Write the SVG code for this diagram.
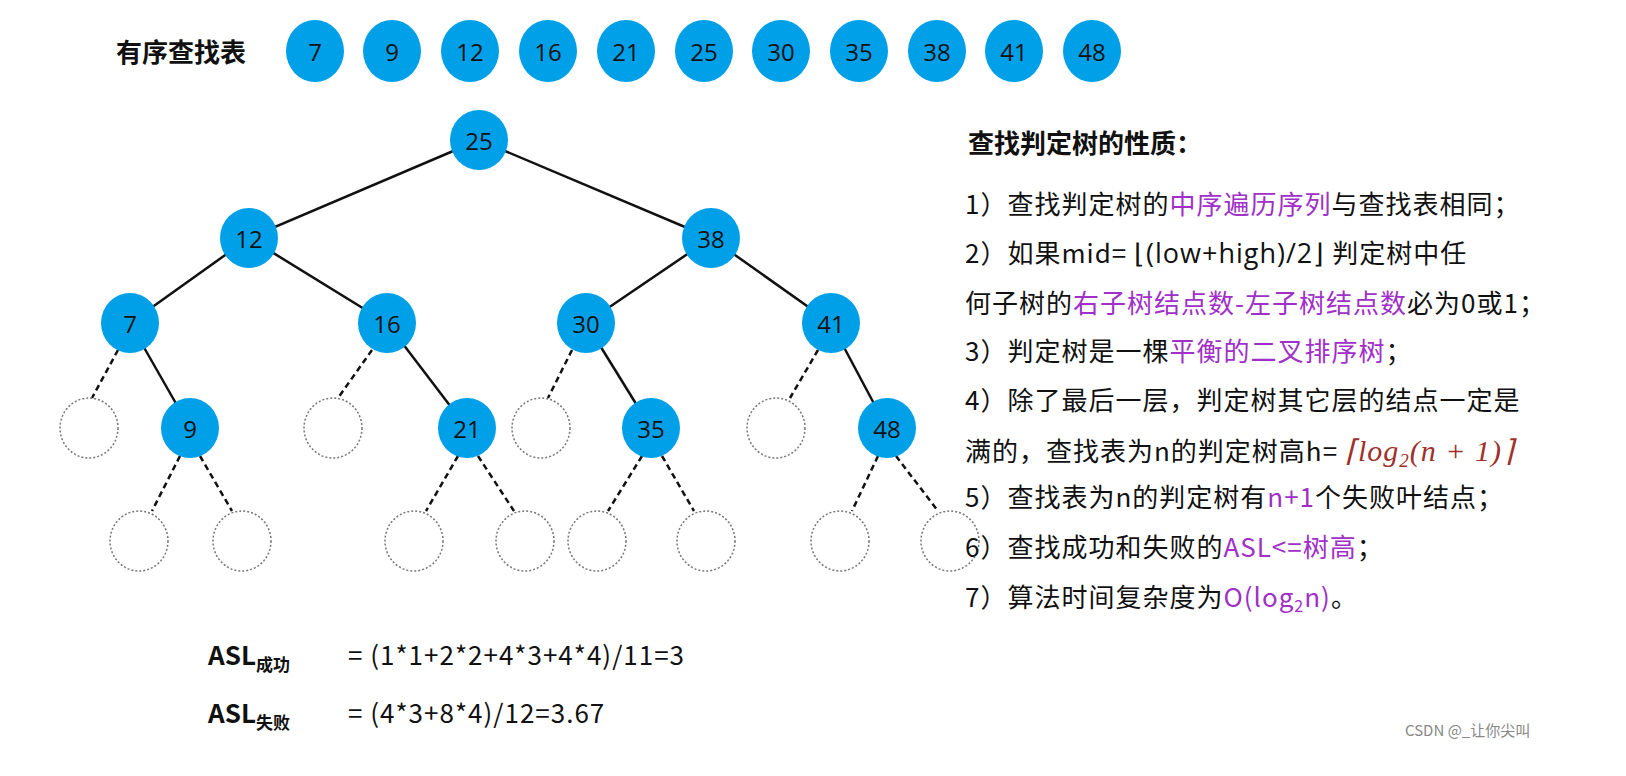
<svg xmlns="http://www.w3.org/2000/svg" width="1626" height="776" viewBox="0 0 1626 776">
<style>
.n{fill:#00a0e9}
.e{fill:none;stroke:#777;stroke-width:1.5;stroke-dasharray:2 2}
.t{font-family:"Open Sans","Noto Sans CJK SC",sans-serif;font-size:24px;fill:#111;text-anchor:middle;dominant-baseline:central}
.s{stroke:#111;stroke-width:2.5}
.d{stroke:#111;stroke-width:2.5;stroke-dasharray:6 4}
.p{font-family:"Noto Sans CJK SC",sans-serif;font-size:26px;letter-spacing:1px;fill:#111}
.m{fill:#a030c8}
.b{font-family:"Noto Sans CJK SC",sans-serif;font-weight:bold;fill:#111}
</style>
<rect width="1626" height="776" fill="#fff"/>
<text class="b" x="116" y="62" font-size="26">有序查找表</text>
<g id="table">
<g id="a7"><ellipse class="n" cx="315" cy="51" rx="29" ry="31"/><text class="t" x="315" y="51">7</text></g>
<g id="a9"><ellipse class="n" cx="392" cy="51" rx="29" ry="31"/><text class="t" x="392" y="51">9</text></g>
<g id="a12"><ellipse class="n" cx="470" cy="51" rx="29" ry="31"/><text class="t" x="470" y="51">12</text></g>
<g id="a16"><ellipse class="n" cx="548" cy="51" rx="29" ry="31"/><text class="t" x="548" y="51">16</text></g>
<g id="a21"><ellipse class="n" cx="626" cy="51" rx="29" ry="31"/><text class="t" x="626" y="51">21</text></g>
<g id="a25"><ellipse class="n" cx="704" cy="51" rx="29" ry="31"/><text class="t" x="704" y="51">25</text></g>
<g id="a30"><ellipse class="n" cx="781" cy="51" rx="29" ry="31"/><text class="t" x="781" y="51">30</text></g>
<g id="a35"><ellipse class="n" cx="859" cy="51" rx="29" ry="31"/><text class="t" x="859" y="51">35</text></g>
<g id="a38"><ellipse class="n" cx="937" cy="51" rx="29" ry="31"/><text class="t" x="937" y="51">38</text></g>
<g id="a41"><ellipse class="n" cx="1014" cy="51" rx="29" ry="31"/><text class="t" x="1014" y="51">41</text></g>
<g id="a48"><ellipse class="n" cx="1092" cy="51" rx="29" ry="31"/><text class="t" x="1092" y="51">48</text></g>
</g>
<g id="connectors">
<line class="s" x1="479" y1="140" x2="249" y2="238"/>
<line class="s" x1="479" y1="140" x2="711" y2="238"/>
<line class="s" x1="249" y1="238" x2="130" y2="323"/>
<line class="s" x1="249" y1="238" x2="387" y2="323"/>
<line class="s" x1="711" y1="238" x2="586" y2="323"/>
<line class="s" x1="711" y1="238" x2="831" y2="323"/>
<line class="s" x1="130" y1="323" x2="190" y2="428"/>
<line class="s" x1="387" y1="323" x2="467" y2="428"/>
<line class="s" x1="586" y1="323" x2="651" y2="428"/>
<line class="s" x1="831" y1="323" x2="887" y2="428"/>
<line class="d" x1="118" y1="350" x2="92" y2="398"/>
<line class="d" x1="372" y1="350" x2="338" y2="398"/>
<line class="d" x1="572" y1="350" x2="548" y2="398"/>
<line class="d" x1="818" y1="350" x2="790" y2="398"/>
<line class="d" x1="180" y1="456" x2="152" y2="511"/>
<line class="d" x1="200" y1="456" x2="232" y2="511"/>
<line class="d" x1="458" y1="456" x2="426" y2="511"/>
<line class="d" x1="478" y1="456" x2="514" y2="511"/>
<line class="d" x1="642" y1="456" x2="608" y2="511"/>
<line class="d" x1="662" y1="456" x2="694" y2="511"/>
<line class="d" x1="878" y1="456" x2="852" y2="511"/>
<line class="d" x1="896" y1="456" x2="938" y2="511"/>
</g>
<g id="tree">
<g id="n25"><ellipse class="n" cx="479" cy="140" rx="29" ry="30"/><text class="t" x="479" y="140">25</text></g>
<g id="n12"><ellipse class="n" cx="249" cy="238" rx="29" ry="30"/><text class="t" x="249" y="238">12</text></g>
<g id="n38"><ellipse class="n" cx="711" cy="238" rx="29" ry="30"/><text class="t" x="711" y="238">38</text></g>
<g id="n7"><ellipse class="n" cx="130" cy="323" rx="29" ry="30"/><text class="t" x="130" y="323">7</text></g>
<g id="n16"><ellipse class="n" cx="387" cy="323" rx="29" ry="30"/><text class="t" x="387" y="323">16</text></g>
<g id="n30"><ellipse class="n" cx="586" cy="323" rx="29" ry="30"/><text class="t" x="586" y="323">30</text></g>
<g id="n41"><ellipse class="n" cx="831" cy="323" rx="29" ry="30"/><text class="t" x="831" y="323">41</text></g>
<g id="n9"><ellipse class="n" cx="190" cy="428" rx="29" ry="30"/><text class="t" x="190" y="428">9</text></g>
<g id="n21"><ellipse class="n" cx="467" cy="428" rx="29" ry="30"/><text class="t" x="467" y="428">21</text></g>
<g id="n35"><ellipse class="n" cx="651" cy="428" rx="29" ry="30"/><text class="t" x="651" y="428">35</text></g>
<g id="n48"><ellipse class="n" cx="887" cy="428" rx="29" ry="30"/><text class="t" x="887" y="428">48</text></g>
<g id="f1"><ellipse class="e" cx="89" cy="428" rx="29" ry="30"/></g>
<g id="f2"><ellipse class="e" cx="333" cy="428" rx="29" ry="30"/></g>
<g id="f3"><ellipse class="e" cx="541" cy="428" rx="29" ry="30"/></g>
<g id="f4"><ellipse class="e" cx="776" cy="428" rx="29" ry="30"/></g>
<g id="f5"><ellipse class="e" cx="139" cy="541" rx="29" ry="30"/></g>
<g id="f6"><ellipse class="e" cx="242" cy="541" rx="29" ry="30"/></g>
<g id="f7"><ellipse class="e" cx="414" cy="541" rx="29" ry="30"/></g>
<g id="f8"><ellipse class="e" cx="525" cy="541" rx="29" ry="30"/></g>
<g id="f9"><ellipse class="e" cx="597" cy="541" rx="29" ry="30"/></g>
<g id="f10"><ellipse class="e" cx="706" cy="541" rx="29" ry="30"/></g>
<g id="f11"><ellipse class="e" cx="840" cy="541" rx="29" ry="30"/></g>
<g id="f12"><ellipse class="e" cx="950" cy="541" rx="29" ry="30"/></g>
</g>
<g id="props">
<text class="b" x="968" y="153" font-size="26">查找判定树的性质：</text>
<text class="p" x="965" y="214">1）查找判定树的<tspan class="m">中序遍历序列</tspan>与查找表相同；</text>
<text class="p" x="965" y="263">2）如果mid= <tspan font-family="'Open Sans',sans-serif" font-size="27">⌊(low+high)/2⌋</tspan> 判定树中任</text>
<text class="p" x="965" y="313">何子树的<tspan class="m">右子树结点数-左子树结点数</tspan>必为0或1；</text>
<text class="p" x="965" y="361">3）判定树是一棵<tspan class="m">平衡的二叉排序树</tspan>；</text>
<text class="p" x="965" y="410">4）除了最后一层，判定树其它层的结点一定是</text>
<text class="p" x="965" y="461">满的，查找表为n的判定树高h= <tspan fill="#a0302a" font-family="'Liberation Serif',serif" font-size="30" font-style="italic">⌈log<tspan font-size="19" dy="6">2</tspan><tspan dy="-6">(n + 1)⌉</tspan></tspan></text>
<text class="p" x="965" y="507">5）查找表为n的判定树有<tspan class="m">n+1</tspan>个失败叶结点；</text>
<text class="p" x="965" y="557">6）查找成功和失败的<tspan class="m">ASL&lt;=树高</tspan>；</text>
<text class="p" x="965" y="607">7）算法时间复杂度为<tspan class="m">O(log<tspan font-size="16" dy="5">2</tspan><tspan dy="-5">n)</tspan></tspan>。</text>
</g>
<g id="asl">
<text class="b" x="208" y="665" font-size="26">ASL<tspan font-size="17" dy="6">成功</tspan></text>
<text class="p" x="348" y="665" font-family="'Open Sans',sans-serif" font-size="27">= (1*1+2*2+4*3+4*4)/11=3</text>
<text class="b" x="208" y="723" font-size="26">ASL<tspan font-size="17" dy="6">失败</tspan></text>
<text class="p" x="348" y="723" font-family="'Open Sans',sans-serif" font-size="27">= (4*3+8*4)/12=3.67</text>
</g>
<text x="1405" y="736" font-family="'Noto Sans CJK SC',sans-serif" font-size="15" fill="#888">CSDN @_让你尖叫</text>
</svg>
